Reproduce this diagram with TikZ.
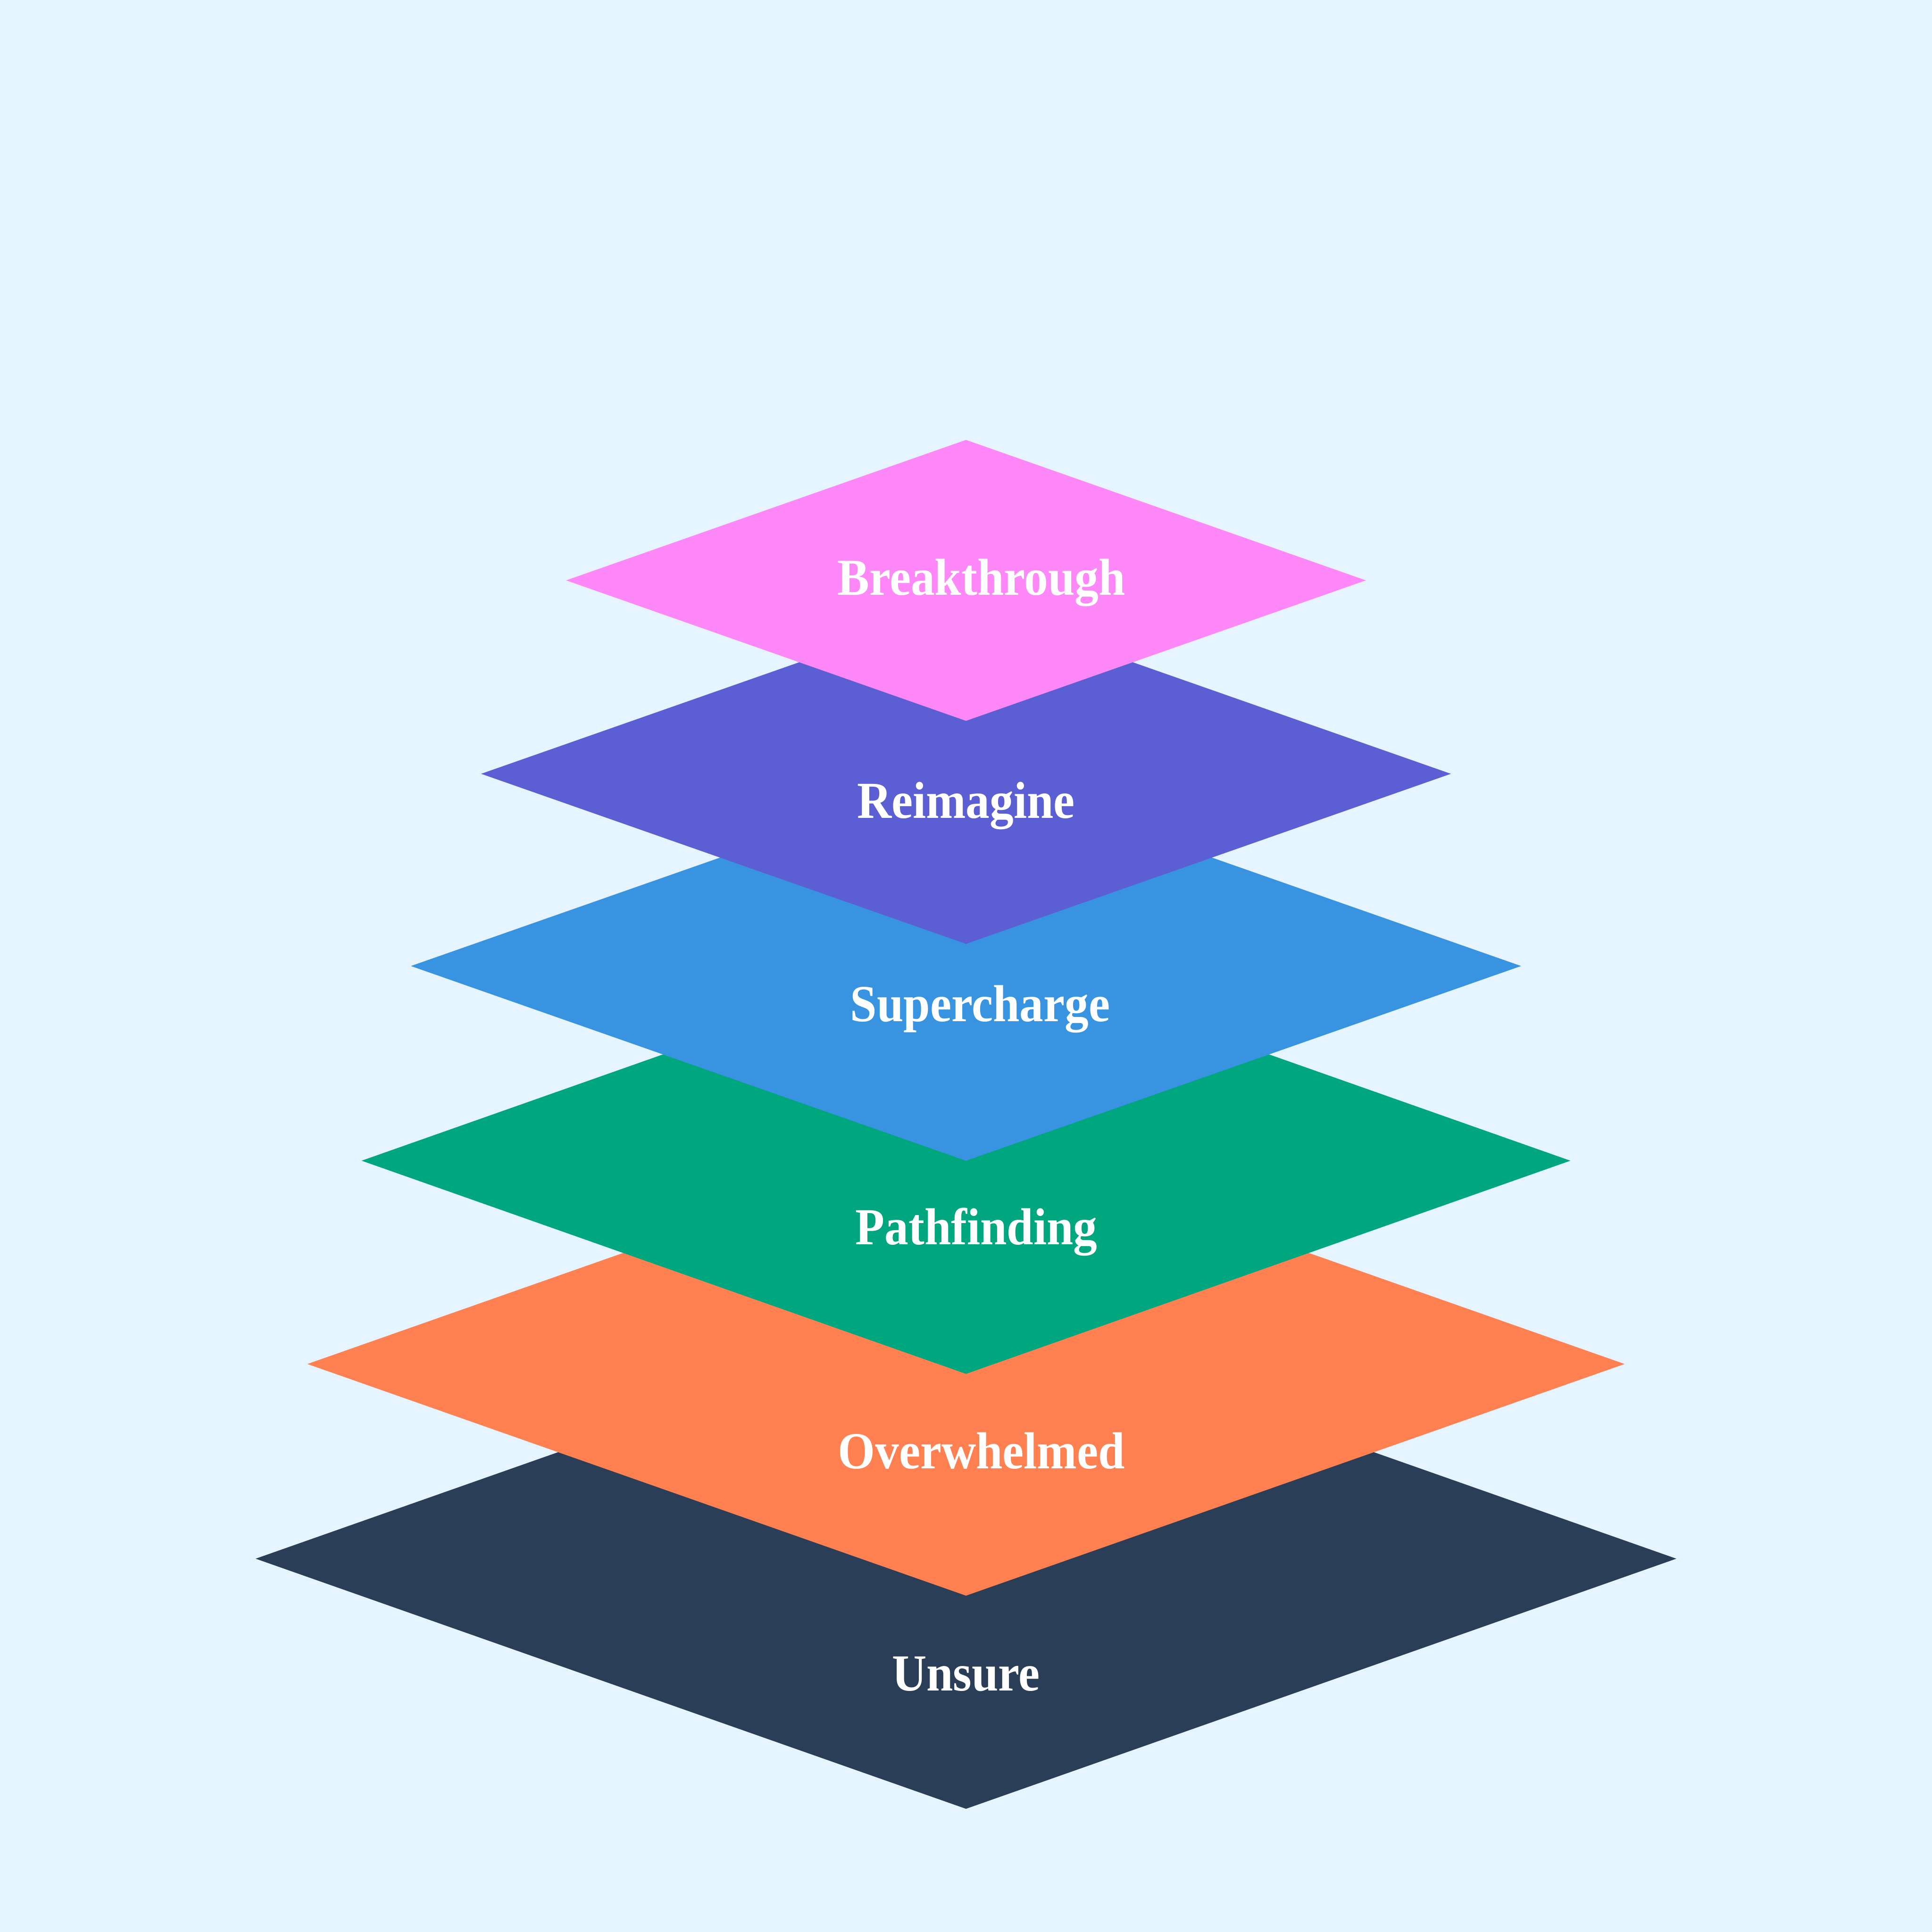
\documentclass[tikz,border=0pt]{standalone}
\usepackage{graphicx}
\usepackage{fontspec}
\setmainfont{Liberation Serif}
\definecolor{bgc}{HTML}{E6F4FF}
\definecolor{cunsure}{HTML}{2A3F57}
\definecolor{cover}{HTML}{FF8050}
\definecolor{cpath}{HTML}{00A67E}
\definecolor{csuper}{HTML}{3894E0}
\definecolor{creim}{HTML}{5B5FD3}
\definecolor{cbreak}{HTML}{FF88F8}
\tikzset{
  layer/.style={draw=none},
  lbl/.style={text=white, anchor=base, inner sep=0pt, font=\fontsize{12}{14}\selectfont\bfseries}
}
\newcommand{\lbltext}[1]{\scalebox{0.92}[1]{#1}}
\newcommand{\lvl}[6]{% name, color, cx, half-width, midy, half-height
  \coordinate (#1-l) at ({#3-#4},#5);
  \coordinate (#1-r) at ({#3+#4},#5);
  \coordinate (#1-t) at (#3,{#5-#6});
  \coordinate (#1-b) at (#3,{#5+#6});
  \fill[layer,#2] (#1-l) -- (#1-t) -- (#1-r) -- (#1-b) -- cycle;
}
\begin{document}
\begin{tikzpicture}[x=0.01cm,y=-0.01cm]
\fill[bgc] (0,0) rectangle (1568,1568);
\useasboundingbox (0,0) rectangle (1568,1568);
\lvl{un}{cunsure}{784}{576.5}{1265}{203}
\lvl{ov}{cover}{784}{534.5}{1107}{188}
\lvl{pa}{cpath}{784}{490.5}{942}{173}
\lvl{su}{csuper}{784}{450.5}{784}{158}
\lvl{re}{creim}{784}{393.5}{628}{138}
\lvl{br}{cbreak}{784}{324.5}{471}{114}
\node[lbl] (tun) at (784,1372) {\lbltext{Unsure}};
\node[lbl] (tov) at (796.5,1192) {\lbltext{Overwhelmed}};
\node[lbl] (tpa) at (792.5,1010) {\lbltext{Pathfinding}};
\node[lbl] (tsu) at (795.5,829) {\lbltext{Supercharge}};
\node[lbl] (tre) at (784,664) {\lbltext{Reimagine}};
\node[lbl] (tbr) at (796.5,483) {\lbltext{Breakthrough}};
\end{tikzpicture}
\end{document}
